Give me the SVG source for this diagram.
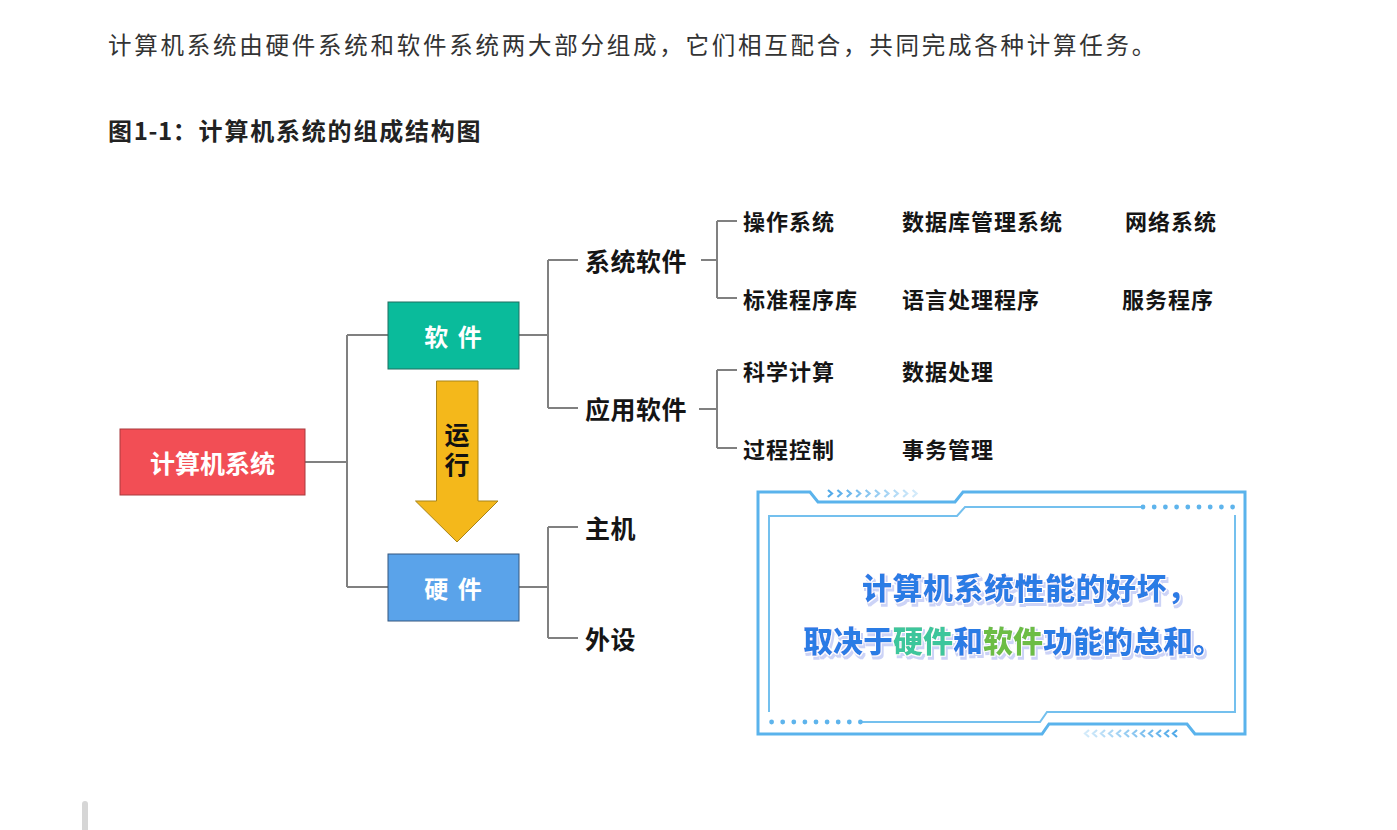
<svg xmlns="http://www.w3.org/2000/svg" width="1397" height="830" viewBox="0 0 1397 830">
<style>
  .cjk { font-family: "Noto Sans CJK SC", "Noto Sans", sans-serif; }
  .body { font-size: 23.5px; fill: #333; letter-spacing: 2.75px; }
  .title { font-size: 24px; font-weight: bold; fill: #222; letter-spacing: 1.8px; }
  .node { font-weight: bold; fill: #fff; text-anchor: middle; dominant-baseline: central; }
  .lbl { font-size: 25px; font-weight: bold; fill: #151515; dominant-baseline: central; letter-spacing: 0.5px; }
  .item { font-size: 22px; font-weight: bold; fill: #151515; dominant-baseline: central; letter-spacing: 1px; }
  .conn { fill: none; stroke: #808080; stroke-width: 2; }
  .outer { fill: none; stroke: #5AB3EC; stroke-width: 3; stroke-linejoin: miter; }
  .inner { fill: none; stroke: #74C0EE; stroke-width: 2; }
  .dot { fill: #5EB4EC; }
  .quote { font-size: 30px; font-weight: 900; fill: #2C7BE5; filter: url(#qshadow); }
</style>
<defs>
  <linearGradient id="gradR" x1="0" y1="0" x2="1" y2="0">
    <stop offset="0" stop-color="#4EA8E8"/>
    <stop offset="1" stop-color="#D4EBFA"/>
  </linearGradient>
  <linearGradient id="gradL" x1="0" y1="0" x2="1" y2="0">
    <stop offset="0" stop-color="#D4EBFA"/>
    <stop offset="1" stop-color="#4EA8E8"/>
  </linearGradient>
  <filter id="qshadow" x="-5%" y="-30%" width="110%" height="160%">
    <feMorphology in="SourceAlpha" operator="dilate" radius="0.6" result="thick"/>
    <feOffset in="thick" dx="2" dy="3" result="off"/>
    <feFlood flood-color="#CCD3F7"/>
    <feComposite in2="off" operator="in" result="shadow"/>
    <feFlood flood-color="#FFFFFF"/>
    <feComposite in2="thick" operator="in" result="halo"/>
    <feMerge>
      <feMergeNode in="shadow"/>
      <feMergeNode in="halo"/>
      <feMergeNode in="SourceGraphic"/>
    </feMerge>
  </filter>
</defs>

<!-- page text -->
<text class="cjk body" x="108" y="54">计算机系统由硬件系统和软件系统两大部分组成，它们相互配合，共同完成各种计算任务。</text>
<text class="cjk title" x="108" y="140">图<tspan letter-spacing="0.6">1-1</tspan>：计算机系统的组成结构图</text>

<!-- connectors -->
<g id="connectors">
  <path class="conn" d="M305,462 H347 M347,335 V587 M347,335 H388 M347,587 H388"/>
  <path class="conn" d="M519,335 H548 M548,260 V408 M548,260 H578 M548,408 H578"/>
  <path class="conn" d="M519,587 H548 M548,527 V638 M548,527 H578 M548,638 H578"/>
  <path class="conn" d="M701,260 H717 M717,221 V298 M717,221 H737 M717,298 H737"/>
  <path class="conn" d="M699,409 H717 M717,370 V448 M717,370 H737 M717,448 H737"/>
</g>

<!-- nodes -->
<g id="node-computer">
  <rect x="120" y="429" width="185" height="66" fill="#F24E55" stroke="#A83A3E" stroke-width="1"/>
  <text class="cjk node" x="212.5" y="462" font-size="25">计算机系统</text>
</g>
<g id="node-software">
  <rect x="388" y="302" width="131" height="67" fill="#0ABB9B" stroke="#1F6F60" stroke-width="1"/>
  <text class="cjk node" x="454" y="335" font-size="24" letter-spacing="2">软 件</text>
</g>
<g id="node-hardware">
  <rect x="388" y="554" width="131" height="67" fill="#5AA3EA" stroke="#35577F" stroke-width="1"/>
  <text class="cjk node" x="454" y="587" font-size="24" letter-spacing="2">硬 件</text>
</g>
<g id="arrow-run">
  <path d="M436.5,381 H478 V501 H498 L457,542 L415.5,501 H436.5 Z" fill="#F4B81B" stroke="#A88418" stroke-width="1"/>
  <text class="cjk" x="457" y="422" font-size="25" font-weight="bold" fill="#111" writing-mode="vertical-rl" letter-spacing="5">运行</text>
</g>

<g id="node-syssoft"><text class="cjk lbl" x="585" y="260">系统软件</text></g>
<g id="node-appsoft"><text class="cjk lbl" x="585" y="408">应用软件</text></g>
<g id="node-host"><text class="cjk lbl" x="585" y="527">主机</text></g>
<g id="node-periph"><text class="cjk lbl" x="585" y="638">外设</text></g>

<g id="node-sys-row1">
  <text class="cjk item" x="743" y="220">操作系统</text>
  <text class="cjk item" x="902" y="220">数据库管理系统</text>
  <text class="cjk item" x="1125" y="220">网络系统</text>
</g>
<g id="node-sys-row2">
  <text class="cjk item" x="743" y="298">标准程序库</text>
  <text class="cjk item" x="902" y="298">语言处理程序</text>
  <text class="cjk item" x="1122" y="298">服务程序</text>
</g>
<g id="node-app-row1">
  <text class="cjk item" x="743" y="370">科学计算</text>
  <text class="cjk item" x="902" y="370">数据处理</text>
</g>
<g id="node-app-row2">
  <text class="cjk item" x="743" y="448">过程控制</text>
  <text class="cjk item" x="902" y="448">事务管理</text>
</g>

<!-- quote box -->
<g id="quote-box">
  <path class="outer" d="M810,492 H758 V734 H1042 L1049,724 H1187 L1195,734 H1245 V492 H963 L955,502 H818 Z"/>
  <path class="inner" d="M1143,507 H965 L957,516 H769 V712"/>
  <path class="inner" d="M860,722 H1040 L1047,712 H1235 V515"/>
  <g class="dot">
    <circle cx="1143" cy="507" r="2.4"/><circle cx="1154.2" cy="507" r="2.4"/><circle cx="1165.4" cy="507" r="2.4"/>
    <circle cx="1176.6" cy="507" r="2.4"/><circle cx="1187.8" cy="507" r="2.4"/><circle cx="1199" cy="507" r="2.4"/>
    <circle cx="1210.2" cy="507" r="2.4"/><circle cx="1221.4" cy="507" r="2.4"/><circle cx="1232.6" cy="507" r="2.4"/>
    <circle cx="771.6" cy="722" r="2.4"/><circle cx="782.7" cy="722" r="2.4"/><circle cx="793.8" cy="722" r="2.4"/>
    <circle cx="804.9" cy="722" r="2.4"/><circle cx="816" cy="722" r="2.4"/><circle cx="827.1" cy="722" r="2.4"/>
    <circle cx="838.2" cy="722" r="2.4"/><circle cx="849.3" cy="722" r="2.4"/><circle cx="860.4" cy="722" r="2.4"/>
  </g>
  <g stroke="url(#gradR)" fill="none" stroke-width="2.2">
    <path d="M828,490 L832,493.5 L828,497 M837.4,490 L841.4,493.5 L837.4,497 M846.8,490 L850.8,493.5 L846.8,497 M856.2,490 L860.2,493.5 L856.2,497 M865.6,490 L869.6,493.5 L865.6,497 M875,490 L879,493.5 L875,497 M884.4,490 L888.4,493.5 L884.4,497 M893.8,490 L897.8,493.5 L893.8,497 M903.2,490 L907.2,493.5 L903.2,497 M912.6,490 L916.6,493.5 L912.6,497"/>
  </g>
  <g stroke="url(#gradL)" fill="none" stroke-width="2.2">
    <path d="M1089,730 L1085,733.5 L1089,737 M1097,730 L1093,733.5 L1097,737 M1105,730 L1101,733.5 L1105,737 M1113,730 L1109,733.5 L1113,737 M1121,730 L1117,733.5 L1121,737 M1129,730 L1125,733.5 L1129,737 M1137,730 L1133,733.5 L1137,737 M1145,730 L1141,733.5 L1145,737 M1153,730 L1149,733.5 L1153,737 M1161,730 L1157,733.5 L1161,737 M1169,730 L1165,733.5 L1169,737 M1177,730 L1173,733.5 L1177,737"/>
  </g>
  <text class="cjk quote" x="862" y="599" letter-spacing="0.5">计算机系统性能的好坏，</text>
  <text class="cjk quote" x="803" y="652">取决于<tspan fill="#3CC69C">硬件</tspan>和<tspan fill="#6CBD44">软件</tspan>功能的总和。</text>
</g>

<!-- page scrollbar fragment -->
<path d="M82,830 V804 Q82,801 85,801 Q88,801 88,804 V830 Z" fill="#D6D6D6"/>
</svg>
